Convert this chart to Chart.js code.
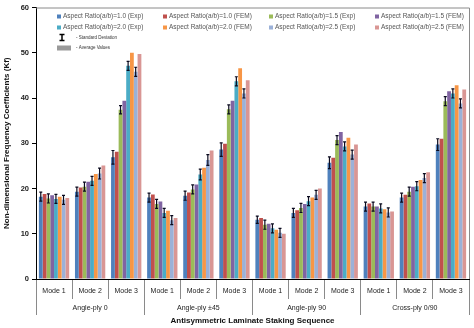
<!DOCTYPE html>
<html>
<head>
<meta charset="utf-8">
<script src="https://cdn.jsdelivr.net/npm/chart.js@4"></script>
<style>
  html, body { margin: 0; padding: 0; background: #fff; }
  canvas { display: block; }
</style>
</head>
<body>
<canvas id="freqChart" width="474" height="328"></canvas>
<script>
const modes = ['Mode 1', 'Mode 2', 'Mode 3', 'Mode 1', 'Mode 2', 'Mode 3',
  'Mode 1', 'Mode 2', 'Mode 3', 'Mode 1', 'Mode 2', 'Mode 3'];
const groups = ['Angle-ply 0', 'Angle-ply \u00b145', 'Angle-ply 90', 'Cross-ply 0/90'];
const yTicks = [0, 10, 20, 30, 40, 50, 60];

const ar10Exp = [18.2, 19.3, 26.9, 18.0, 18.4, 28.6, 13.1, 14.6, 25.7, 16.0, 18.0, 29.7];
const ar10Fem = [18.8, 20.2, 28.1, 18.7, 19.1, 29.9, 13.5, 15.2, 26.8, 16.7, 18.6, 31.0];
const ar15Exp = [17.8, 20.4, 37.4, 16.6, 19.8, 37.5, 12.0, 15.7, 30.7, 16.0, 19.3, 39.3];
const ar15Fem = [18.5, 21.5, 39.4, 17.1, 20.9, 39.4, 12.2, 16.6, 32.5, 16.0, 20.4, 41.5];
const ar20Exp = [17.7, 21.7, 47.1, 14.6, 23.1, 43.7, 11.2, 17.2, 29.3, 15.6, 20.5, 41.0];
const ar20Fem = [18.2, 23.2, 50.0, 15.1, 24.6, 46.6, 10.9, 18.0, 31.2, 15.4, 21.9, 42.8];
const ar25Exp = [17.5, 23.3, 45.8, 13.0, 26.3, 41.0, 10.2, 18.6, 27.5, 14.7, 22.3, 38.8];
const ar25Fem = [17.9, 25.1, 49.7, 13.5, 28.4, 43.9, 10.0, 20.0, 29.7, 14.9, 23.6, 41.9];

// standard deviation of the experimental series
const ar10Sd = [1.0, 1.0, 1.5, 1.0, 1.0, 1.5, 0.8, 1.0, 1.3, 1.0, 1.0, 1.3];
const ar15Sd = [1.0, 1.0, 0.9, 1.0, 1.0, 1.0, 1.0, 1.0, 1.0, 1.0, 1.0, 1.0];
const ar20Sd = [1.0, 1.0, 1.0, 1.0, 1.2, 1.0, 1.0, 1.0, 1.0, 1.0, 1.0, 1.0];
const ar25Sd = [1.0, 1.2, 1.0, 1.0, 1.2, 1.0, 1.0, 1.0, 1.0, 1.0, 1.0, 1.0];

const FONT = "'Liberation Sans Narrow', 'Liberation Sans', Arial, sans-serif";

function series(label, data, color, sd) {
  return { label: label, data: data, backgroundColor: color, sd: sd };
}

const datasets = [
  series('Aspect Ratio(a/b)=1.0 (Exp)', ar10Exp, '#4F81BD', ar10Sd),
  series('Aspect Ratio(a/b)=1.0 (FEM)', ar10Fem, '#C0504D'),
  series('Aspect Ratio(a/b)=1.5 (Exp)', ar15Exp, '#9BBB59', ar15Sd),
  series('Aspect Ratio(a/b)=1.5 (FEM)', ar15Fem, '#8064A2'),
  series('Aspect Ratio(a/b)=2.0 (Exp)', ar20Exp, '#4BACC6', ar20Sd),
  series('Aspect Ratio(a/b)=2.0 (FEM)', ar20Fem, '#F79646'),
  series('Aspect Ratio(a/b)=2.5 (Exp)', ar25Exp, '#9BB1D8', ar25Sd),
  series('Aspect Ratio(a/b)=2.5 (FEM)', ar25Fem, '#D99694')
];

const errorBars = {
  id: 'errorBars',
  afterDatasetsDraw(chart) {
    const ctx = chart.ctx;
    const y = chart.scales.y;
    ctx.save();
    ctx.strokeStyle = '#0a0a1e';
    ctx.lineWidth = 1.2;
    chart.data.datasets.forEach((ds, i) => {
      if (!ds.sd) return;
      chart.getDatasetMeta(i).data.forEach((bar, j) => {
        const top = y.getPixelForValue(ds.data[j] + ds.sd[j]);
        const bot = y.getPixelForValue(ds.data[j] - ds.sd[j]);
        ctx.beginPath();
        ctx.moveTo(bar.x, top); ctx.lineTo(bar.x, bot);
        ctx.moveTo(bar.x - 1.5, top); ctx.lineTo(bar.x + 1.5, top);
        ctx.moveTo(bar.x - 1.5, bot); ctx.lineTo(bar.x + 1.5, bot);
        ctx.stroke();
      });
    });
    ctx.restore();
  }
};

// plot box plus the legend drawn inside it
const plotBox = {
  id: 'plotBox',
  afterDraw(chart) {
    const ctx = chart.ctx;
    const a = chart.chartArea;
    ctx.save();
    ctx.strokeStyle = '#8a8a8a';
    ctx.lineWidth = 1;
    ctx.beginPath();
    ctx.moveTo(a.left, a.top + 0.5); ctx.lineTo(a.right + 0.5, a.top + 0.5);
    ctx.lineTo(a.right + 0.5, a.bottom);
    ctx.stroke();

    ctx.font = '6.5px ' + FONT;
    ctx.textBaseline = 'middle';
    chart.data.datasets.forEach((ds, i) => {
      const x = a.left + 21 + (i % 4) * 106;
      const yy = a.top + 9 + Math.floor(i / 4) * 11;
      ctx.fillStyle = ds.backgroundColor;
      ctx.fillRect(x, yy - 2, 4, 4);
      ctx.fillStyle = '#555';
      ctx.fillText(ds.label, x + 6, yy);
    });

    // standard deviation / average value key
    const kx = a.left + 26, ky = a.top + 30;
    ctx.strokeStyle = '#000';
    ctx.lineWidth = 1.5;
    ctx.beginPath();
    ctx.moveTo(kx, ky - 3); ctx.lineTo(kx, ky + 3);
    ctx.moveTo(kx - 2.5, ky - 3); ctx.lineTo(kx + 2.5, ky - 3);
    ctx.moveTo(kx - 2.5, ky + 3); ctx.lineTo(kx + 2.5, ky + 3);
    ctx.stroke();
    ctx.fillStyle = '#9a9a9a';
    ctx.fillRect(kx - 5, ky + 8, 14, 5);
    ctx.fillStyle = '#333';
    ctx.font = '4.5px ' + FONT;
    ctx.fillText('- Standard Deviation', kx + 14, ky);
    ctx.fillText('- Average Values', kx + 14, ky + 10.5);
    ctx.restore();
  }
};

new Chart(document.getElementById('freqChart'), {
  type: 'bar',
  data: { labels: modes, datasets: datasets },
  options: {
    responsive: false,
    animation: false,
    devicePixelRatio: 1,
    layout: { padding: { top: 5, right: 5, left: 2, bottom: 2 } },
    datasets: { bar: { categoryPercentage: 0.84, barPercentage: 1.0 } },
    plugins: { legend: { display: false }, tooltip: { enabled: false } },
    scales: {
      y: {
        min: 0,
        max: 60,
        afterBuildTicks: (s) => { s.ticks = yTicks.map(v => ({ value: v })); },
        afterFit: (s) => { s.width = 34; },
        border: { display: true, color: '#000', width: 1 },
        grid: { drawOnChartArea: false, drawTicks: true, tickLength: 4, color: '#000' },
        ticks: { color: '#222', padding: 3, font: { family: FONT, size: 7.5, weight: 'bold' } },
        title: {
          display: true,
          text: 'Non-dimensional Frequency Coefficients (Kf)',
          color: '#111',
          padding: { top: 0, bottom: 2 },
          font: { family: FONT, size: 8, weight: 'bold' }
        }
      },
      x: {
        afterFit: (s) => { s.height = 20; },
        border: { display: true, color: '#000', width: 1 },
        grid: { offset: true, drawOnChartArea: false, drawTicks: true, tickLength: 20, color: '#8a8a8a' },
        ticks: { color: '#222', padding: -12, maxRotation: 0, autoSkip: false, font: { family: FONT, size: 7 } }
      },
      x2: {
        type: 'category',
        position: 'bottom',
        labels: groups,
        offset: true,
        afterFit: (s) => { s.height = 27; },
        border: { display: false },
        grid: { offset: true, drawOnChartArea: false, drawTicks: true, tickLength: 16, color: '#8a8a8a' },
        ticks: { color: '#222', padding: -11, maxRotation: 0, autoSkip: false, font: { family: FONT, size: 7 } },
        title: {
          display: true,
          text: 'Antisymmetric Laminate Staking Sequence',
          color: '#111',
          padding: { top: 0, bottom: 0 },
          font: { family: FONT, size: 8, weight: 'bold' }
        }
      }
    }
  },
  plugins: [errorBars, plotBox]
});
</script>
</body>
</html>
